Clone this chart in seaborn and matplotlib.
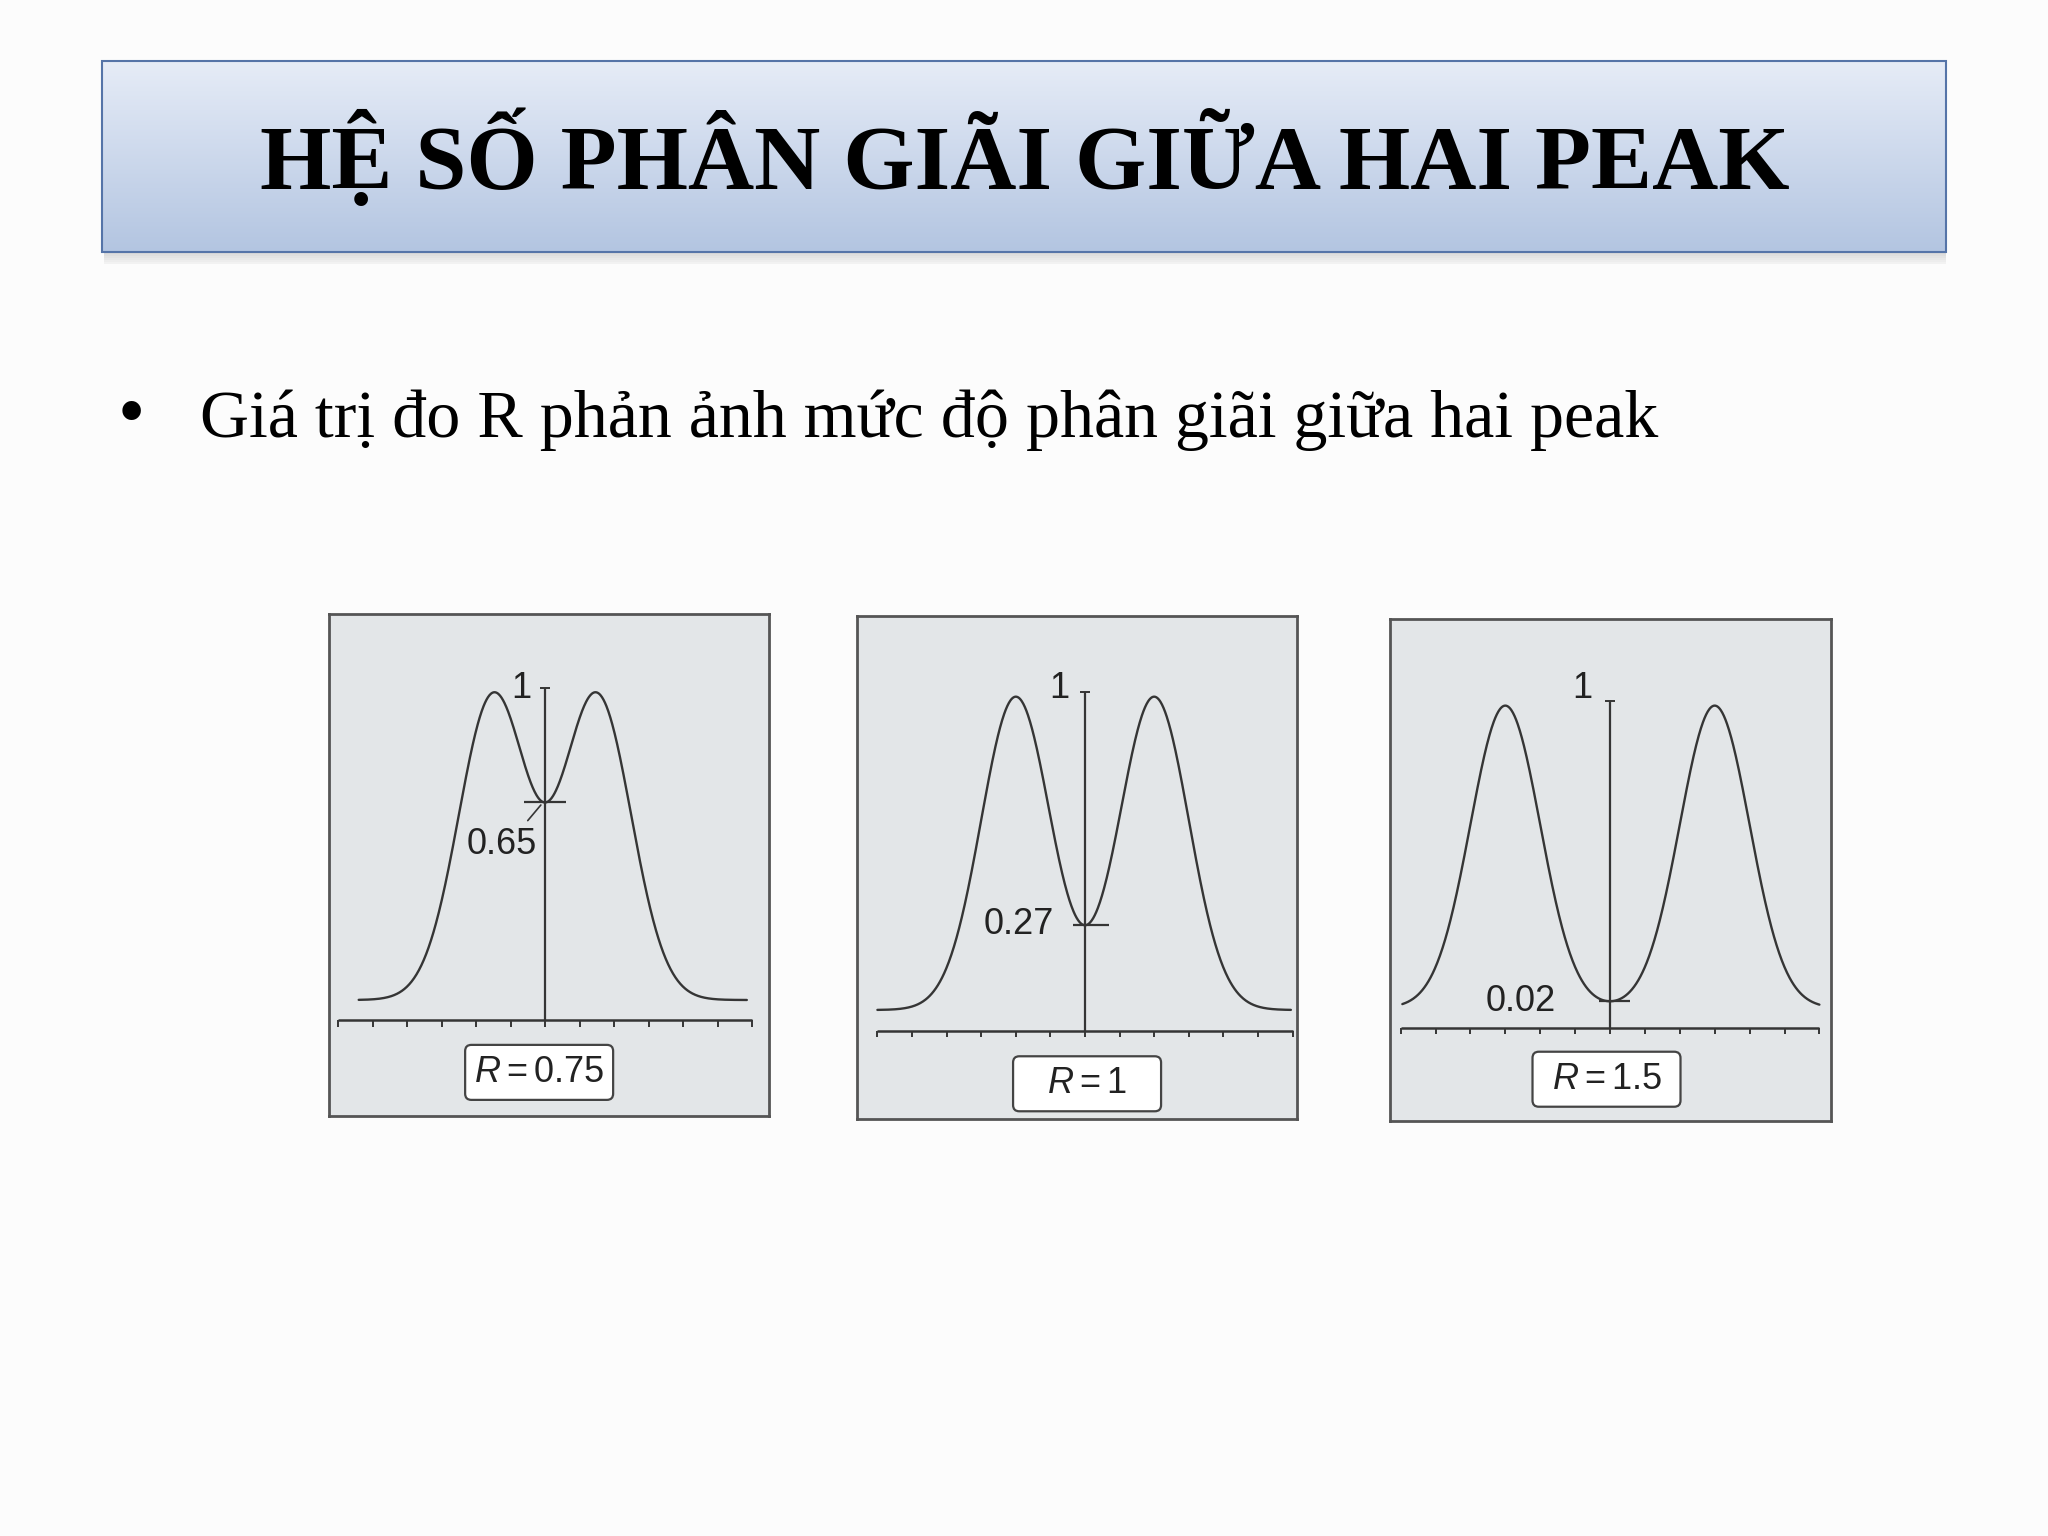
import numpy as np
import matplotlib
matplotlib.use("Agg")
import matplotlib.pyplot as plt
import seaborn as sns
from matplotlib.patches import FancyBboxPatch, Rectangle
from matplotlib.colors import LinearSegmentedColormap

# values
TITLE = "HỆ SỐ PHÂN GIÃI GIỮA HAI PEAK"
BULLET = "Giá trị đo R phản ảnh mức độ phân giãi giữa hai peak"
R_VALUES = [0.75, 1.0, 1.5]
R_LABELS = ["0.75", "1", "1.5"]
VALLEY_LABELS = ["0.65", "0.27", "0.02"]
PEAK_HEIGHT = [0.975, 0.985, 0.985]
CURVE_START = [-5.4, -6.0, -5.95]
CURVE_END = [5.85, 5.95, 6.0]
AXIS_TICKS = list(range(-6, 7))

sns.set_style("white")
plt.rcParams["font.family"] = ["Liberation Sans", "DejaVu Sans"]
plt.rcParams["mathtext.fontset"] = "custom"
plt.rcParams["mathtext.it"] = "Liberation Sans:italic"
plt.rcParams["mathtext.rm"] = "Liberation Sans"

W, H = 2048, 1536
fig = plt.figure(figsize=(W / 100, H / 100), dpi=100, facecolor="#fcfcfc")

# slide background, title box, bullet
bg = fig.add_axes([0, 0, 1, 1])
bg.set_facecolor("#fcfcfc")
for k in range(6):
    bg.add_patch(Rectangle((104, 252 + k * 2), 1842, 2, color="#9a9a9a",
                           alpha=0.35 - k * 0.05, lw=0, zorder=1))
cmap = LinearSegmentedColormap.from_list("title", ["#e6ecf7", "#b3c5e1"])
grad = np.linspace(0, 1, 256).reshape(-1, 1)
bg.imshow(grad, extent=(102, 1946, 252, 61), cmap=cmap, aspect="auto", zorder=2)
bg.add_patch(Rectangle((102, 61), 1844, 191, fill=False, ec="#5574a8", lw=1.5, zorder=3))
bg.text(1025, 189, TITLE, ha="center", va="baseline", fontsize=66, fontweight="bold",
        family=["Liberation Serif", "DejaVu Serif"], color="black", zorder=4)
bg.text(118, 437, "•", ha="left", va="baseline", fontsize=56,
        family=["Liberation Serif", "DejaVu Serif"], color="black")
bg.text(200, 437, BULLET, ha="left", va="baseline", fontsize=49,
        family=["Liberation Serif", "DejaVu Serif"], color="black")
bg.set_xlim(0, W)
bg.set_ylim(H, 0)
bg.axis("off")

# panel layout in pixels: left, right, top, bottom, x0 pixel, px per unit x, baseline pixel, px per unit y
PANELS = [
    (329, 769, 614, 1116, 545, 34.5, 1000, 312),
    (857, 1297, 616, 1119, 1085, 34.6, 1010, 318),
    (1390, 1831, 619, 1121, 1610, 34.9, 1008, 307),
]
SEGMENTS = [(-0.6, 0.6), (-0.36, 0.69), (-0.31, 0.56)]
VALLEY_TEXT = [(-1.26, 0.50, "center"), (-0.9, 0.27, "right"), (-1.55, 0.02, "right")]
ONE_TEXT = [(-0.4, 1.0), (-0.44, 1.01), (-0.5, 1.04)]
BOX_X = [-0.17, 0.06, -0.1]

line_c = "#353535"
for i, (l, r, t, b, cx, sx, by, sy) in enumerate(PANELS):
    ax = fig.add_axes([l / W, 1 - b / H, (r - l) / W, (b - t) / H])
    ax.set_facecolor("#e3e6e8")

    rv = R_VALUES[i]
    xs = np.linspace(CURVE_START[i], CURVE_END[i], 800)
    ys = PEAK_HEIGHT[i] * (np.exp(-(xs - 2 * rv) ** 2 / 2) + np.exp(-(xs + 2 * rv) ** 2 / 2))
    sns.lineplot(x=xs, y=ys, ax=ax, color=line_c, lw=1.7)

    axis_y = -0.065
    ax.hlines(axis_y, AXIS_TICKS[0], AXIS_TICKS[-1], color=line_c, lw=1.8)
    ax.vlines(AXIS_TICKS, axis_y - 0.02, axis_y, color=line_c, lw=1.4)
    ax.vlines(0, axis_y, 1, color=line_c, lw=1.6)
    ax.hlines(1, -0.15, 0.15, color=line_c, lw=1.4)

    valley = PEAK_HEIGHT[i] * 2 * np.exp(-(2 * rv) ** 2 / 2)
    ax.hlines(valley, SEGMENTS[i][0], SEGMENTS[i][1], color=line_c, lw=1.6)
    vx, vy, ha = VALLEY_TEXT[i]
    ax.text(vx, vy, VALLEY_LABELS[i], ha=ha, va="center", fontsize=26, color="#222222")
    if i == 0:
        ax.plot([-0.5, -0.12], [0.575, 0.625], color=line_c, lw=1.2)
    ox, oy = ONE_TEXT[i]
    ax.text(ox, oy, "1", ha="right", va="center", fontsize=26, color="#222222")

    bw, bh = 148 / sx, 55 / sy
    bxc, byc = BOX_X[i], -0.232
    ax.add_patch(FancyBboxPatch((bxc - bw / 2, byc - bh / 2), bw, bh,
                                boxstyle="round,pad=0,rounding_size=0.18",
                                mutation_aspect=(1 / sy) / (1 / sx),
                                fc="white", ec="#444444", lw=1.6, zorder=3))
    ax.text(bxc, byc, f"$R={R_LABELS[i]}$", ha="center", va="center",
            fontsize=26, color="#222222", zorder=4)

    ax.set_xlim((l - cx) / sx, (r - cx) / sx)
    ax.set_ylim((by - b) / sy, (by - t) / sy)
    ax.set_xticks([])
    ax.set_yticks([])
    ax.set_xlabel("")
    ax.set_ylabel("")
    for s in ax.spines.values():
        s.set_visible(True)
        s.set_color("#555555")
        s.set_linewidth(2.0)

fig.savefig("out.png", dpi=100, facecolor=fig.get_facecolor())
